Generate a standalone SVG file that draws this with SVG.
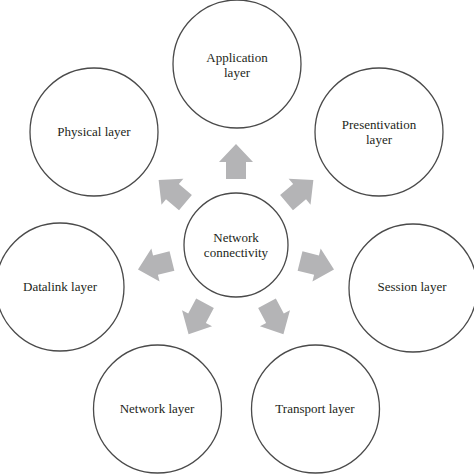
<svg xmlns="http://www.w3.org/2000/svg" width="474" height="474" viewBox="0 0 474 474">
<defs>
<style>
.node circle{fill:#fff;stroke:#4a4a4a;stroke-width:1.3}
.node text{font-family:"Liberation Serif","Times New Roman",serif;font-size:13px;fill:#231f20;text-anchor:middle}
.arr{fill:#b4b4b6}
</style>
<path id="arrow" d="M66,-10 L83,-10 L83,-17 L101,0 L83,17 L83,10 L66,10 Z"/>
</defs>
<rect width="474" height="474" fill="#fff"/>
<g id="connectors" class="arr">
<use href="#arrow" transform="translate(236,245) rotate(-90)"/>
<use href="#arrow" transform="translate(236,245) rotate(-140)"/>
<use href="#arrow" transform="translate(236,245) rotate(-40)"/>
<use href="#arrow" transform="translate(236,245) rotate(166)"/>
<use href="#arrow" transform="translate(236,245) rotate(14)"/>
<use href="#arrow" transform="translate(236,245) rotate(118)"/>
<use href="#arrow" transform="translate(236,245) rotate(62)"/>
</g>
<g id="center" class="node"><circle cx="236" cy="245" r="52"/><text x="236" y="242">Network</text><text x="236" y="257">connectivity</text></g>
<g id="application" class="node"><circle cx="237" cy="64" r="64"/><text x="237" y="62">Application</text><text x="237" y="77">layer</text></g>
<g id="physical" class="node"><circle cx="94" cy="132" r="64"/><text x="94" y="136">Physical layer</text></g>
<g id="presentation" class="node"><circle cx="379" cy="132" r="64"/><text x="379" y="129">Presentivation</text><text x="379" y="144">layer</text></g>
<g id="datalink" class="node"><circle cx="60" cy="287" r="64"/><text x="60" y="291">Datalink layer</text></g>
<g id="session" class="node"><circle cx="413" cy="288" r="64"/><text x="412" y="291">Session layer</text></g>
<g id="network" class="node"><circle cx="157.5" cy="409" r="64"/><text x="157" y="413">Network layer</text></g>
<g id="transport" class="node"><circle cx="315.5" cy="409" r="64"/><text x="315" y="413">Transport layer</text></g>
</svg>
